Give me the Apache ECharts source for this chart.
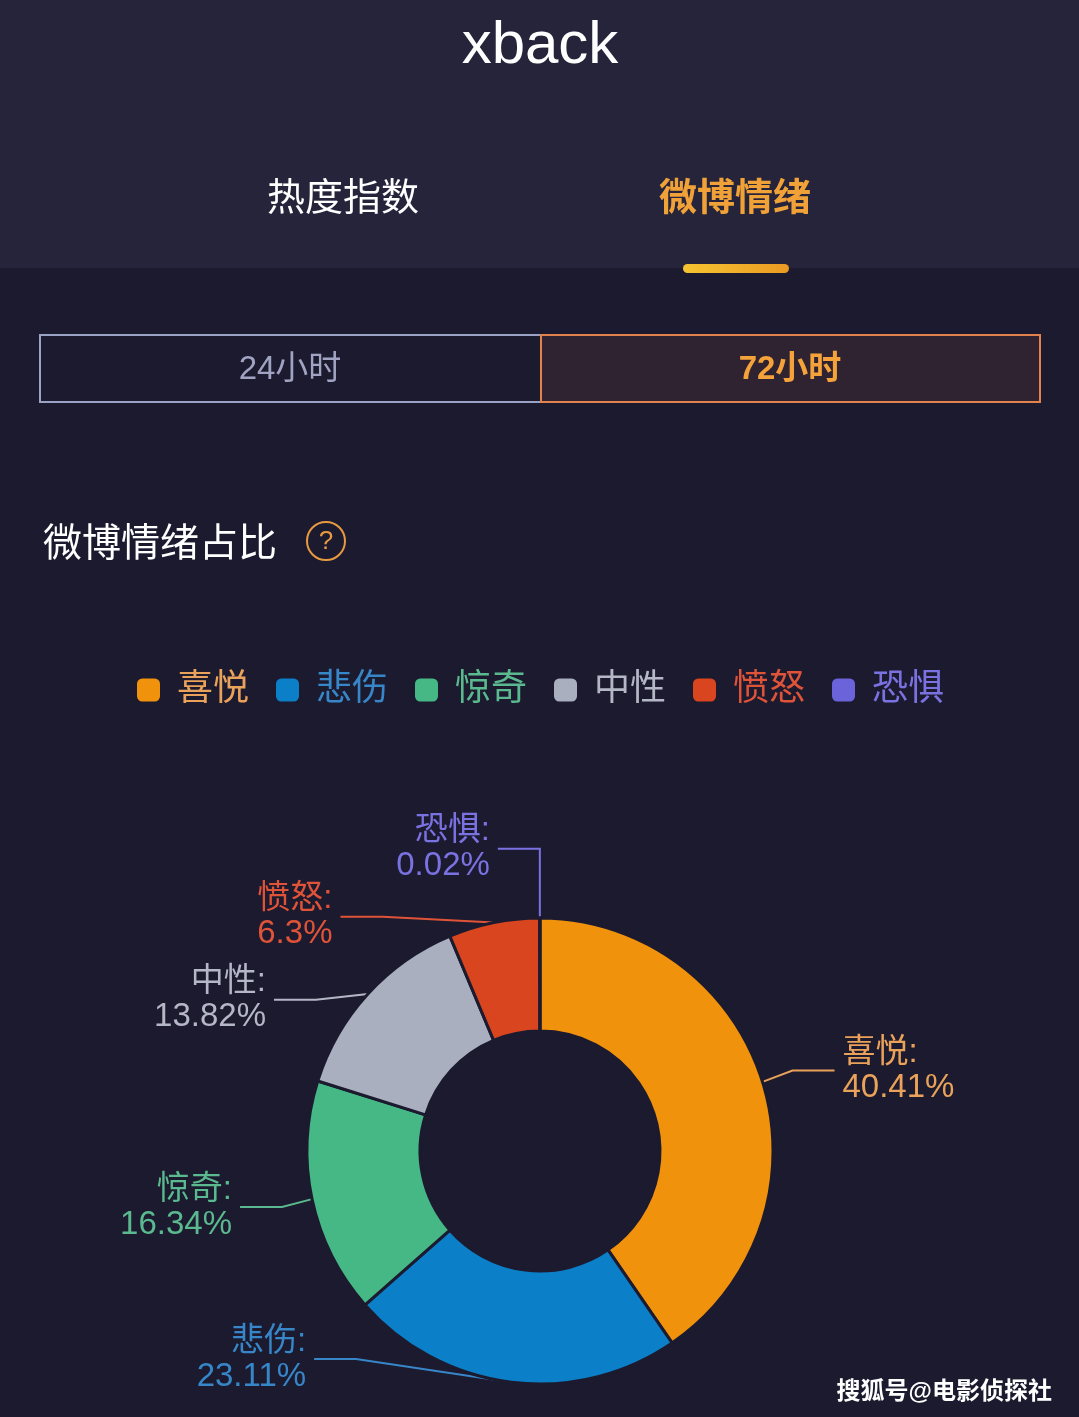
<!DOCTYPE html>
<html>
<head>
<meta charset="utf-8">
<script src="https://cdn.jsdelivr.net/npm/echarts@6/dist/echarts.min.js"></script>
<style>
html,body{margin:0;padding:0;background:#1c1a2f;}
#chart{width:1079px;height:1417px;}
</style>
</head>
<body>
<div id="chart"></div>
<script>
// ---- data ----
var categories = ['喜悦', '悲伤', '惊奇', '中性', '愤怒', '恐惧'];
var values = [40.41, 23.11, 16.34, 13.82, 6.3, 0.02];
var tabLabels = ['热度指数', '微博情绪'];
var rangeLabels = ['24小时', '72小时'];

// ---- styles ----
var sliceColors = ['#f0920c', '#0b7fc8', '#45b886', '#a9afbf', '#d8451f', '#6a63da'];
var textColors  = ['#eaa25a', '#3786c8', '#5ab98e', '#b4b7c6', '#df5438', '#7b72e2'];
var FONT = "'Liberation Sans', 'Noto Sans CJK SC', sans-serif";

// ---- pie geometry ----
var CX = 540, CY = 1151, R0 = 120, R1 = 233;
var LEN = 38, LEN2 = 42, GAP = 8, LABEL_H = 68, VIEW_TOP = 0, VIEW_H = 1427;

// Classic (ECharts 4 style) outside-label placement, derived from the data
function computeLabelLayout() {
  var total = values.reduce(function (a, b) { return a + b; }, 0);
  var angle = 90;
  var items = [];
  values.forEach(function (v, i) {
    var span = v / total * 360;
    var mid = (angle - span / 2) * Math.PI / 180;
    angle -= span;
    var c = Math.cos(mid), s = Math.sin(mid);
    var dir = c < 0 ? -1 : 1;
    items.push({
      i: i, dir: dir,
      x1: CX + R1 * c, y1: CY - R1 * s,
      x: CX + (R1 + LEN) * c + dir * (LEN2 + GAP),
      y: CY - (R1 + LEN) * s,
      height: LABEL_H
    });
  });

  function adjustSide(list, dir) {
    list.sort(function (a, b) { return a.y - b.y; });
    function shiftUp(end, delta) {
      for (var j = end; j >= 0; j--) {
        if (list[j].y - delta < VIEW_TOP) break;
        list[j].y -= delta;
        if (j > 0 && list[j].y > list[j - 1].y + list[j - 1].height) break;
      }
    }
    function shiftDown(start, end, delta) {
      for (var j = start; j < end; j++) {
        if (list[j].y + delta > VIEW_TOP + VIEW_H) break;
        list[j].y += delta;
        if (j > start && j + 1 < end && list[j + 1].y > list[j].y + list[j].height) {
          shiftUp(j, delta / 2);
          return;
        }
      }
      shiftUp(end - 1, delta / 2);
    }
    var lastY = 0, n = list.length, k;
    for (k = 0; k < n; k++) {
      var delta = list[k].y - lastY;
      if (delta < 0) shiftDown(k, n, -delta);
      lastY = list[k].y + list[k].height;
    }
    if (VIEW_H - lastY < 0 && n) shiftUp(n - 1, lastY - VIEW_H);
    var up = [], down = [];
    list.forEach(function (it) { (it.y >= CY ? down : up).push(it); });
    function changeX(sub, isDown) {
      var last = isDown ? Number.MAX_VALUE : 0;
      var RT = R1 + LEN + LEN2;
      sub.forEach(function (it) {
        var dy = Math.abs(it.y - CY);
        var dx = dy < R1 + LEN ? Math.sqrt(RT * RT - dy * dy) : Math.abs(it.x - CX);
        if (isDown && dx >= last) dx = last - 10;
        if (!isDown && dx <= last) dx = last + 10;
        it.x = CX + dx * dir;
        last = dx;
      });
    }
    changeX(up, false);
    changeX(down, true);
  }
  adjustSide(items.filter(function (it) { return it.dir < 0; }), -1);
  adjustSide(items.filter(function (it) { return it.dir > 0; }), 1);

  var out = [];
  items.forEach(function (it) {
    var ex = it.x - it.dir * GAP;
    var bx = ex - it.dir * LEN2;
    out[it.i] = {
      x: it.x, y: it.y, align: it.dir < 0 ? 'right' : 'left',
      points: [[it.x1, it.y1], [bx, it.y], [ex, it.y]]
    };
  });
  return out;
}
var labelPos = computeLabelLayout();

var chart = echarts.init(document.getElementById('chart'), null, {renderer: 'canvas'});

var pieData = categories.map(function (name, i) {
  return {
    name: name,
    value: values[i],
    itemStyle: {color: sliceColors[i]},
    label: {color: textColors[i]},
    labelLine: {lineStyle: {color: textColors[i]}}
  };
});

var legendData = categories.map(function (name, i) {
  return {name: name, textStyle: {color: textColors[i]}};
});

var option = {
  backgroundColor: '#1c1a2f',
  animation: false,
  textStyle: {fontFamily: FONT},
  legend: {
    data: legendData,
    top: 667,
    left: 'center',
    icon: 'roundRect',
    itemWidth: 25,
    itemHeight: 25,
    itemGap: 25,
    textStyle: {fontSize: 36, fontFamily: FONT, padding: [0, 0, 0, 11]},
    selectedMode: false
  },
  graphic: [
    {type: 'rect', z: -10, shape: {x: 0, y: 0, width: 1079, height: 268}, style: {fill: '#26243b'}},
    {type: 'text', x: 540, y: 46, style: {text: 'xback', fill: '#ffffff', font: '60px ' + FONT, textAlign: 'center', textVerticalAlign: 'middle'}},
    {type: 'text', x: 343, y: 200, style: {text: tabLabels[0], fill: '#ffffff', font: '38px ' + FONT, textAlign: 'center', textVerticalAlign: 'middle'}},
    {type: 'text', x: 735, y: 200, style: {text: tabLabels[1], fill: '#f0a238', font: 'bold 38px ' + FONT, textAlign: 'center', textVerticalAlign: 'middle'}},
    {type: 'rect', shape: {x: 683, y: 264, width: 106, height: 9, r: 4.5},
      style: {fill: new echarts.graphic.LinearGradient(0, 0, 1, 0, [{offset: 0, color: '#f6c432'}, {offset: 1, color: '#ea9a22'}])}},
    {type: 'rect', shape: {x: 40, y: 335, width: 501, height: 67}, style: {fill: '#1c1a2f', stroke: '#9aa3c6', lineWidth: 2}},
    {type: 'rect', shape: {x: 541, y: 335, width: 499, height: 67}, style: {fill: '#2f2231', stroke: '#e2824c', lineWidth: 2}},
    {type: 'text', x: 290, y: 370, style: {text: rangeLabels[0], fill: '#a0a4c2', font: '33px ' + FONT, textAlign: 'center', textVerticalAlign: 'middle'}},
    {type: 'text', x: 790, y: 370, style: {text: rangeLabels[1], fill: '#f4a23a', font: 'bold 33px ' + FONT, textAlign: 'center', textVerticalAlign: 'middle'}},
    {type: 'text', x: 43, y: 545, style: {text: '微博情绪占比', fill: '#ffffff', font: '39px ' + FONT, textAlign: 'left', textVerticalAlign: 'middle'}},
    {type: 'circle', shape: {cx: 326, cy: 541, r: 19}, style: {fill: 'none', stroke: '#e89a40', lineWidth: 2}},
    {type: 'text', x: 326, y: 542, style: {text: '?', fill: '#e89a40', font: '26px ' + FONT, textAlign: 'center', textVerticalAlign: 'middle'}},
    {type: 'text', x: 1052, y: 1392, style: {text: '搜狐号@电影侦探社', fill: '#ffffff', font: 'bold 24px ' + FONT, textAlign: 'right', textVerticalAlign: 'middle', shadowColor: 'rgba(0,0,0,0.6)', shadowBlur: 3}}
  ],
  series: [{
    type: 'pie',
    center: [CX, CY],
    radius: [R0, R1],
    startAngle: 90,
    clockwise: true,
    avoidLabelOverlap: false,
    itemStyle: {borderColor: '#1c1a2f', borderWidth: 3},
    label: {
      show: true,
      formatter: '{b}:\n{c}%',
      fontSize: 33,
      lineHeight: 35,
      fontFamily: FONT
    },
    labelLine: {show: true, length: LEN, length2: LEN2, lineStyle: {width: 2}},
    labelLayout: function (params) {
      var p = labelPos[params.dataIndex];
      return {
        x: p.x,
        y: p.y,
        align: p.align,
        verticalAlign: 'middle',
        labelLinePoints: p.points
      };
    },
    emphasis: {disabled: true},
    data: pieData
  }]
};

chart.setOption(option);
</script>
</body>
</html>
